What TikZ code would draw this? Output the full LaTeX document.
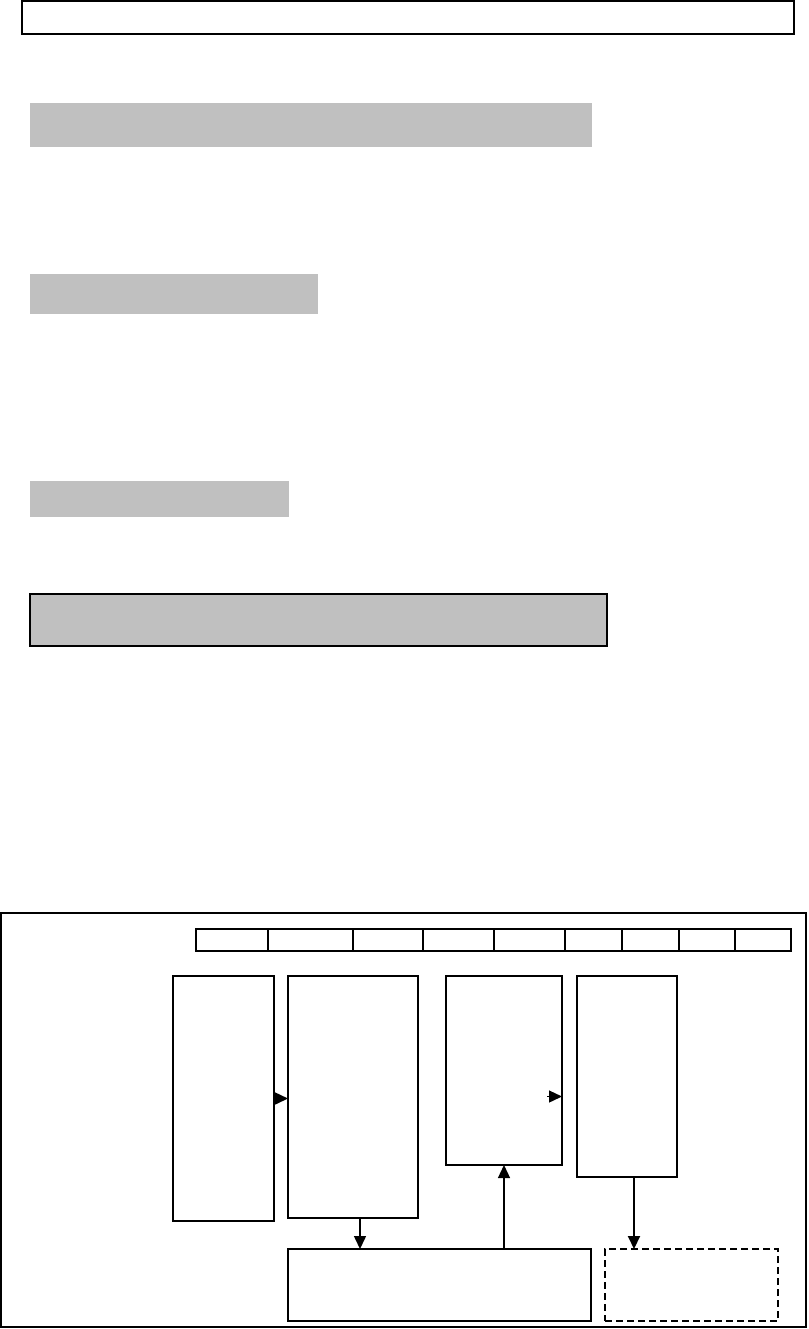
\documentclass[tikz,border=0pt]{standalone}
\usetikzlibrary{arrows.meta}
\definecolor{bargray}{HTML}{C0C0C0}
\begin{document}
\begin{tikzpicture}[x=1pt,y=-1pt,
    box/.style={draw,line width=#1,anchor=north west,inner sep=0pt,outer sep=0pt},
    box/.default=1.7pt,
    band/.style={fill=bargray,anchor=north west,inner sep=0pt,outer sep=0pt},
    flow/.style={-{Triangle[length=13pt,width=12pt]},line width=#1},
    flow/.default=1.5pt,
    ]
    \useasboundingbox (0,0) rectangle (808,1329);

    % Title box
    \node[box,minimum width=772,minimum height=33] (title) at (22,1) {};

    % Gray bands
    \node[band,minimum width=562,minimum height=44] (bandA) at (30,103) {};
    \node[band,minimum width=288,minimum height=40] (bandB) at (30,274) {};
    \node[band,minimum width=259,minimum height=36] (bandC) at (30,481) {};
    \node[band,draw,line width=1.4pt,minimum width=577,minimum height=52] (bandD) at (30,594) {};

    % Outer frame
    \node[box=2pt,minimum width=805,minimum height=414] (frame) at (1,913) {};

    % Header row
    \draw[line width=1.2pt] (196,929) rectangle (791,951);
    \foreach \x in {268,353,423,494,565,622,679,735}
        \draw[line width=1.2pt] (\x,929) -- (\x,951);

    % Blocks
    \node[box=2.5pt,minimum width=101,minimum height=245] (src) at (173,976) {};
    \node[box,minimum width=130,minimum height=242] (proc) at (288,976) {};
    \node[box=2.5pt,minimum width=116,minimum height=189] (calc) at (446,976) {};
    \node[box,minimum width=100,minimum height=201] (res) at (577,976) {};
    \node[box=1.5pt,minimum width=303,minimum height=72] (store) at (288,1249) {};
    \node[box=1.4pt,dash pattern=on 7pt off 4pt,minimum width=173,minimum height=72] (extra) at (605,1249) {};

    % Connectors
    \draw[flow] (src.east) -- (src.east -| proc.west);
    \draw[flow] ([xshift=7]proc.south) -- ([xshift=7]proc.south |- store.north);
    \draw[flow=1.3pt] (store.north -| calc.south) -- (calc.south);
    \coordinate (calcin) at ([shift={(-15,26)}]calc.east);
    \draw[flow=1.3pt] (calcin) -- (calcin -| calc.east);
    \draw[flow=2pt] ([xshift=7]res.south) -- ([xshift=7]res.south |- extra.north);

\end{tikzpicture}
\end{document}
